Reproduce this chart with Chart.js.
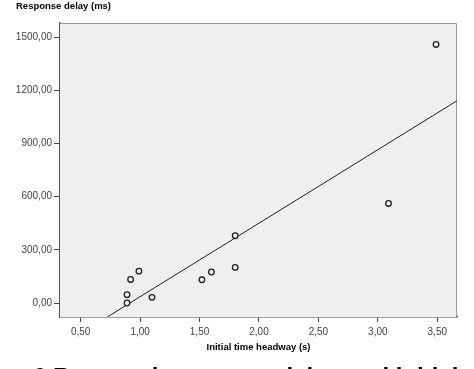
<!DOCTYPE html>
<html>
<head>
<meta charset="utf-8">
<script src="https://cdn.jsdelivr.net/npm/chart.js@4/dist/chart.umd.min.js"></script>
<style>
  html, body { margin: 0; padding: 0; background: #fff; }
  #wrap { width: 474px; height: 369px; position: relative; }
</style>
</head>
<body>
<div id="wrap"><canvas id="scatterChart"></canvas></div>
<script>
const headway = [0.89, 0.89, 0.92, 0.99, 1.10, 1.52, 1.60, 1.80, 1.80, 3.09, 3.49];
const delay = [47, 0, 133, 180, 32, 131, 175, 380, 201, 562, 1460];

// Fit line end points (as drawn, clipped by the plot frame)
const fitX = [0.724, 3.666];
const fitY = [-79, 1142];

const xTicks = [0.5, 1.0, 1.5, 2.0, 2.5, 3.0, 3.5];
const yTicks = [0, 300, 600, 900, 1200, 1500];

const yTitle = 'Response delay (ms)';
const xTitle = 'Initial time headway (s)';
const caption = '6 Reported response delay and initial time headway';

const fmt = v => Number(v).toFixed(2).replace('.', ',');

// Grey plot background, frame, top label and cut-off caption
const framePlugin = {
  id: 'frame',
  beforeDatasetsDraw(chart) {
    const { ctx, chartArea: a } = chart;
    ctx.save();
    ctx.fillStyle = '#efefef';
    ctx.fillRect(a.left, a.top, a.right - a.left, a.bottom - a.top);
    ctx.strokeStyle = '#9a9a9a';
    ctx.lineWidth = 1;
    ctx.beginPath();
    ctx.moveTo(a.left, a.top + 0.5);
    ctx.lineTo(a.right - 0.5, a.top + 0.5);
    ctx.lineTo(a.right - 0.5, a.bottom);
    ctx.stroke();
    ctx.restore();
  },
  afterDraw(chart) {
    const ctx = chart.ctx;
    ctx.save();
    ctx.fillStyle = '#000';
    ctx.textBaseline = 'alphabetic';
    ctx.font = 'bold 9.5px "Liberation Sans", Arial, sans-serif';
    ctx.fillText(yTitle, 16, 9);
    ctx.font = 'bold 24px "Liberation Sans", Arial, sans-serif';
    ctx.fillText(caption, 33, 385);
    ctx.restore();
  }
};

const ctx = document.getElementById('scatterChart').getContext('2d');
new Chart(ctx, {
  type: 'scatter',
  data: {
    datasets: [{
      label: 'Observed',
      data: headway.map((x, i) => ({ x: x, y: delay[i] })),
      pointRadius: 2.8,
      pointHoverRadius: 2.8,
      pointBorderWidth: 1.3,
      pointBorderColor: '#222',
      pointBackgroundColor: '#efefef'
    }, {
      label: 'Fit',
      type: 'line',
      data: fitX.map((x, i) => ({ x: x, y: fitY[i] })),
      borderColor: '#222',
      borderWidth: 1,
      pointRadius: 0,
      fill: false
    }]
  },
  options: {
    responsive: true,
    maintainAspectRatio: false,
    animation: false,
    events: [],
    layout: { padding: { top: 23, right: 17, bottom: 0, left: 0 } },
    plugins: {
      legend: { display: false },
      tooltip: { enabled: false }
    },
    scales: {
      x: {
        type: 'linear',
        min: 0.326,
        max: 3.666,
        afterBuildTicks: s => { s.ticks = xTicks.map(v => ({ value: v })); },
        afterFit: s => { s.height = 52; },
        ticks: {
          callback: fmt,
          color: '#444',
          padding: 4,
          maxRotation: 0,
          font: { family: '"Liberation Sans", Arial, sans-serif', size: 10 }
        },
        grid: { drawOnChartArea: false, tickLength: 5, color: '#444' },
        border: { color: '#444', width: 1.5 },
        title: {
          display: true,
          text: xTitle,
          color: '#000',
          padding: { top: 4, bottom: 16 },
          font: { family: '"Liberation Sans", Arial, sans-serif', size: 9.5, weight: 'bold' }
        }
      },
      y: {
        type: 'linear',
        min: -79,
        max: 1581,
        afterBuildTicks: s => { s.ticks = yTicks.map(v => ({ value: v })); },
        afterFit: s => { s.width = 60; },
        ticks: {
          callback: fmt,
          color: '#444',
          padding: 2,
          font: { family: '"Liberation Sans", Arial, sans-serif', size: 10 }
        },
        grid: { drawOnChartArea: false, tickLength: 6, color: '#444' },
        border: { color: '#555', width: 1.5 }
      }
    }
  },
  plugins: [framePlugin]
});
</script>
</body>
</html>
